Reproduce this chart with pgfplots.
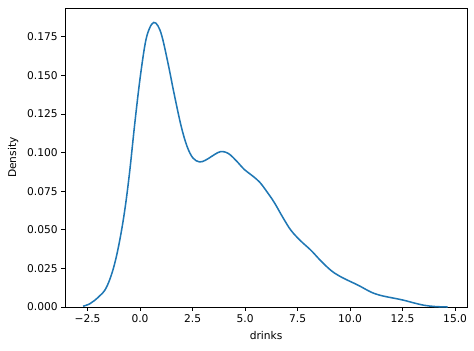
\documentclass[border=0pt]{standalone}
\usepackage{fontspec}
\setmainfont{DejaVu Sans}
\usepackage{pgfplots}
\pgfplotsset{compat=1.18}
\definecolor{tabblue}{HTML}{1F77B4}
\begin{document}
\fontsize{8}{9.5}\selectfont
\begin{tikzpicture}
\path[use as bounding box] (-48pt,-32.25pt) rectangle (307.5pt,230.25pt);
\begin{axis}[
  at={(0.8pt,0pt)}, anchor=south west,
  scale only axis, width=301.5pt, height=224.25pt,
  xmin=-3.57, xmax=15.57, ymin=0, ymax=0.1937,
  xtick={-2.5,0,2.5,5,7.5,10,12.5,15},
  xticklabels={−2.5,0.0,2.5,5.0,7.5,10.0,12.5,15.0},
  ytick={0,0.025,0.05,0.075,0.1,0.125,0.15,0.175},
  yticklabels={0.000,0.025,0.050,0.075,0.100,0.125,0.150,0.175},
  tick align=outside, tick pos=left,
  major tick length=2.7pt,
  tick style={black, line width=0.6pt},
  axis line style={black, line width=0.6pt},
  xlabel={drinks}, ylabel={Density},
  ticklabel style={font=\fontsize{8}{9.5}\selectfont},
  label style={font=\fontsize{8}{9.5}\selectfont},
  xlabel style={yshift=-1.5pt},
  ylabel style={yshift=1pt},
  /pgf/number format/assume math mode=true,
]
\addplot[tabblue, line width=1.15pt, smooth, tension=0.6] coordinates {
(-2.71,0.0005) (-2.40,0.0020) (-2.16,0.0043) (-1.90,0.0075) (-1.68,0.0108)
(-1.45,0.0175) (-1.21,0.028) (-0.97,0.043) (-0.73,0.0625)
(-0.50,0.087) (-0.25,0.119) (0.00,0.148) (0.25,0.1710) (0.45,0.1805) (0.65,0.1843)
(0.85,0.1822) (1.05,0.1750) (1.33,0.1580) (1.64,0.1370) (1.96,0.1170) (2.24,0.1040)
(2.52,0.0965) (2.83,0.0940) (3.10,0.0950)
(3.39,0.0974) (3.70,0.1000) (3.94,0.1007) (4.20,0.0995) (4.42,0.0970)
(4.70,0.0930) (4.97,0.0890) (5.35,0.0850) (5.70,0.0808)
(6.05,0.0745) (6.40,0.0675) (6.80,0.0580) (7.19,0.0496) (7.65,0.0428) (8.14,0.0367)
(8.60,0.0300) (9.09,0.0237) (9.50,0.0200)
(9.89,0.0173) (10.40,0.0140) (10.99,0.0097) (11.40,0.0077) (11.79,0.0065)
(12.20,0.0054) (12.58,0.0043) (13.05,0.0026) (13.53,0.0011) (14.05,0.0003)
(14.64,0.0)
};
\end{axis}
\end{tikzpicture}
\end{document}
